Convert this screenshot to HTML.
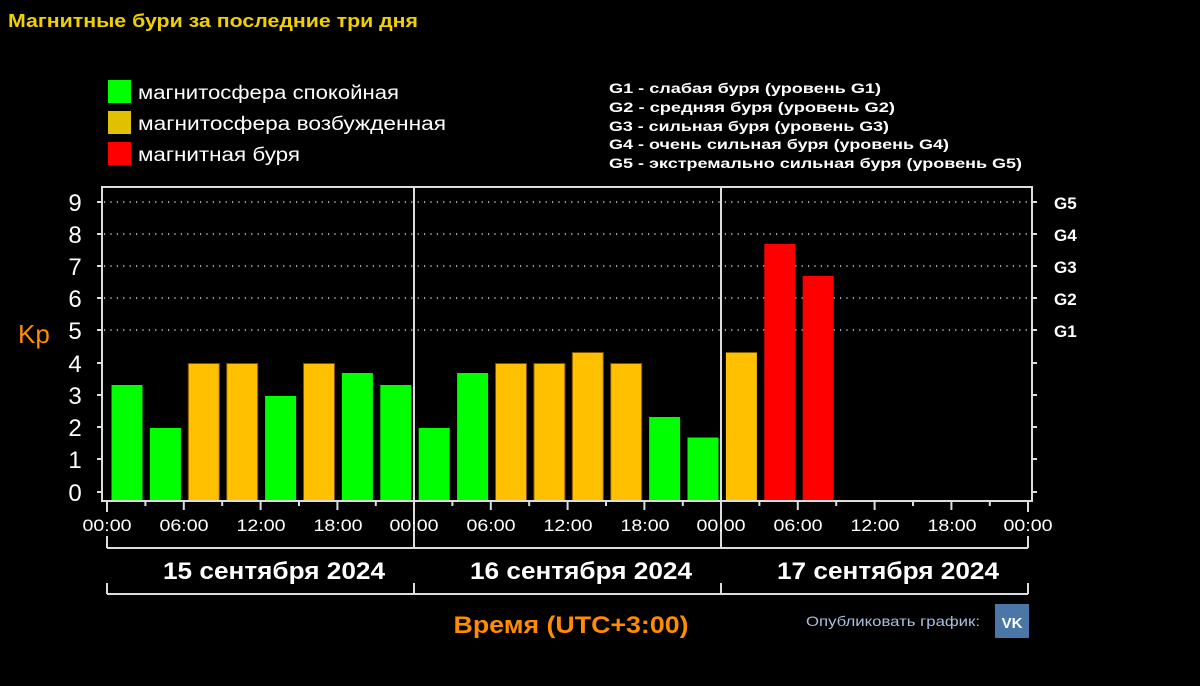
<!DOCTYPE html>
<html><head><meta charset="utf-8"><style>
html,body{margin:0;padding:0;background:#000;}
svg{display:block;}
text{font-family:"Liberation Sans","DejaVu Sans",sans-serif;}
</style></head><body>
<svg width="1200" height="686" viewBox="0 0 1200 686" xmlns="http://www.w3.org/2000/svg">
<rect width="1200" height="686" fill="#000"/>
<text x="8" y="27" font-size="18" font-weight="bold" fill="#f0d000" textLength="410" lengthAdjust="spacingAndGlyphs">Магнитные бури за последние три дня</text>

<rect x="108" y="80" width="23" height="23" fill="#00ff00"/>
<rect x="108" y="111" width="23" height="23" fill="#e0c000"/>
<rect x="108" y="142" width="23" height="23" fill="#ff0000"/>
<g fill="#fff" font-size="19">
<text x="138" y="99" textLength="261" lengthAdjust="spacingAndGlyphs">магнитосфера спокойная</text>
<text x="138" y="130" textLength="308" lengthAdjust="spacingAndGlyphs">магнитосфера возбужденная</text>
<text x="138" y="161" textLength="162" lengthAdjust="spacingAndGlyphs">магнитная буря</text>
</g>
<g fill="#fff" font-size="14" font-weight="bold">
<text x="609" y="93" textLength="272" lengthAdjust="spacingAndGlyphs">G1 - слабая буря (уровень G1)</text>
<text x="609" y="112" textLength="286" lengthAdjust="spacingAndGlyphs">G2 - средняя буря (уровень G2)</text>
<text x="609" y="131" textLength="280" lengthAdjust="spacingAndGlyphs">G3 - сильная буря (уровень G3)</text>
<text x="609" y="149" textLength="340" lengthAdjust="spacingAndGlyphs">G4 - очень сильная буря (уровень G4)</text>
<text x="609" y="168" textLength="413" lengthAdjust="spacingAndGlyphs">G5 - экстремально сильная буря (уровень G5)</text>
</g>

<g stroke="#fff" stroke-width="1.2" stroke-dasharray="1.2 5.2">
<line x1="104" y1="202" x2="1030" y2="202"/>
<line x1="104" y1="234" x2="1030" y2="234"/>
<line x1="104" y1="266" x2="1030" y2="266"/>
<line x1="104" y1="298" x2="1030" y2="298"/>
<line x1="104" y1="330" x2="1030" y2="330"/>
</g>

<g>
<rect x="111.5" y="385" width="31" height="116" fill="#00ff00"/>
<rect x="149.9" y="428" width="31" height="73" fill="#00ff00"/>
<rect x="188.3" y="363.5" width="31" height="137.5" fill="#ffc000" stroke="#805000" stroke-width="1"/>
<rect x="226.7" y="363.5" width="31" height="137.5" fill="#ffc000" stroke="#805000" stroke-width="1"/>
<rect x="265.1" y="396" width="31" height="105" fill="#00ff00"/>
<rect x="303.5" y="363.5" width="31" height="137.5" fill="#ffc000" stroke="#805000" stroke-width="1"/>
<rect x="341.9" y="373" width="31" height="128" fill="#00ff00"/>
<rect x="380.3" y="385" width="31" height="116" fill="#00ff00"/>
<rect x="418.7" y="428" width="31" height="73" fill="#00ff00"/>
<rect x="457.1" y="373" width="31" height="128" fill="#00ff00"/>
<rect x="495.5" y="363.5" width="31" height="137.5" fill="#ffc000" stroke="#805000" stroke-width="1"/>
<rect x="533.9" y="363.5" width="31" height="137.5" fill="#ffc000" stroke="#805000" stroke-width="1"/>
<rect x="572.3" y="352.5" width="31" height="148.5" fill="#ffc000" stroke="#805000" stroke-width="1"/>
<rect x="610.7" y="363.5" width="31" height="137.5" fill="#ffc000" stroke="#805000" stroke-width="1"/>
<rect x="649.1" y="417" width="31" height="84" fill="#00ff00"/>
<rect x="687.5" y="437.5" width="31" height="63.5" fill="#00ff00"/>
<rect x="725.9" y="352.5" width="31" height="148.5" fill="#ffc000"/>
<rect x="764.3" y="244" width="31" height="257" fill="#ff0000"/>
<rect x="802.7" y="276" width="31" height="225" fill="#ff0000"/>
</g>

<g stroke="#ddd" stroke-width="2" fill="none">
<rect x="102" y="187" width="930" height="314"/>
<line x1="414" y1="187" x2="414" y2="548"/>
<line x1="721" y1="187" x2="721" y2="548"/>
<line x1="414" y1="583" x2="414" y2="594"/>
<line x1="721" y1="583" x2="721" y2="594"/>
</g>
<g stroke="#ddd" stroke-width="2">
<line x1="97" y1="202" x2="102" y2="202"/><line x1="97" y1="234" x2="102" y2="234"/><line x1="97" y1="266" x2="102" y2="266"/><line x1="97" y1="298" x2="102" y2="298"/><line x1="97" y1="330" x2="102" y2="330"/><line x1="97" y1="363" x2="102" y2="363"/><line x1="97" y1="395" x2="102" y2="395"/><line x1="97" y1="427" x2="102" y2="427"/><line x1="97" y1="459" x2="102" y2="459"/><line x1="97" y1="492" x2="102" y2="492"/>
<line x1="1032" y1="202" x2="1037" y2="202"/><line x1="1032" y1="234" x2="1037" y2="234"/><line x1="1032" y1="266" x2="1037" y2="266"/><line x1="1032" y1="298" x2="1037" y2="298"/><line x1="1032" y1="330" x2="1037" y2="330"/><line x1="1032" y1="363" x2="1037" y2="363"/><line x1="1032" y1="395" x2="1037" y2="395"/><line x1="1032" y1="427" x2="1037" y2="427"/><line x1="1032" y1="459" x2="1037" y2="459"/><line x1="1032" y1="492" x2="1037" y2="492"/>
</g>
<g stroke="#ddd" stroke-width="2">
<line x1="107" y1="501" x2="107" y2="512"/><line x1="145.4" y1="501" x2="145.4" y2="506"/><line x1="183.8" y1="501" x2="183.8" y2="510"/><line x1="222.2" y1="501" x2="222.2" y2="506"/><line x1="260.6" y1="501" x2="260.6" y2="510"/><line x1="299" y1="501" x2="299" y2="506"/><line x1="337.4" y1="501" x2="337.4" y2="510"/><line x1="375.8" y1="501" x2="375.8" y2="506"/>
<line x1="452.4" y1="501" x2="452.4" y2="506"/><line x1="490.8" y1="501" x2="490.8" y2="510"/><line x1="529.2" y1="501" x2="529.2" y2="506"/><line x1="567.6" y1="501" x2="567.6" y2="510"/><line x1="606" y1="501" x2="606" y2="506"/><line x1="644.4" y1="501" x2="644.4" y2="510"/><line x1="682.8" y1="501" x2="682.8" y2="506"/>
<line x1="759.4" y1="501" x2="759.4" y2="506"/><line x1="797.8" y1="501" x2="797.8" y2="510"/><line x1="836.2" y1="501" x2="836.2" y2="506"/><line x1="874.6" y1="501" x2="874.6" y2="510"/><line x1="913" y1="501" x2="913" y2="506"/><line x1="951.4" y1="501" x2="951.4" y2="510"/><line x1="989.8" y1="501" x2="989.8" y2="506"/><line x1="1028" y1="501" x2="1028" y2="512"/>
<line x1="107" y1="536" x2="107" y2="548"/><line x1="1028" y1="536" x2="1028" y2="548"/>
<line x1="107" y1="548" x2="1028" y2="548"/>
<line x1="107" y1="583" x2="107" y2="594"/><line x1="1028" y1="583" x2="1028" y2="594"/>
<line x1="107" y1="594" x2="1028" y2="594"/>
</g>

<g fill="#fff" font-size="24" text-anchor="middle">
<text x="75" y="211">9</text><text x="75" y="243">8</text><text x="75" y="275">7</text><text x="75" y="307">6</text><text x="75" y="339">5</text><text x="75" y="372">4</text><text x="75" y="404">3</text><text x="75" y="436">2</text><text x="75" y="468">1</text><text x="75" y="501">0</text>
</g>
<text x="18" y="343" font-size="26" fill="#ff8c00">Kp</text>
<g fill="#fff" font-size="17" font-weight="bold">
<text x="1054" y="209">G5</text><text x="1054" y="241">G4</text><text x="1054" y="273">G3</text><text x="1054" y="305">G2</text><text x="1054" y="337">G1</text>
</g>

<g fill="#fff" font-size="17" text-anchor="middle">
<text x="107" y="531" textLength="49" lengthAdjust="spacingAndGlyphs">00:00</text><text x="184" y="531" textLength="49" lengthAdjust="spacingAndGlyphs">06:00</text><text x="261" y="531" textLength="49" lengthAdjust="spacingAndGlyphs">12:00</text><text x="338" y="531" textLength="49" lengthAdjust="spacingAndGlyphs">18:00</text><text x="414" y="531" textLength="49" lengthAdjust="spacingAndGlyphs">00:00</text>
<text x="491" y="531" textLength="49" lengthAdjust="spacingAndGlyphs">06:00</text><text x="568" y="531" textLength="49" lengthAdjust="spacingAndGlyphs">12:00</text><text x="645" y="531" textLength="49" lengthAdjust="spacingAndGlyphs">18:00</text><text x="721" y="531" textLength="49" lengthAdjust="spacingAndGlyphs">00:00</text>
<text x="798" y="531" textLength="49" lengthAdjust="spacingAndGlyphs">06:00</text><text x="875" y="531" textLength="49" lengthAdjust="spacingAndGlyphs">12:00</text><text x="952" y="531" textLength="49" lengthAdjust="spacingAndGlyphs">18:00</text><text x="1028" y="531" textLength="49" lengthAdjust="spacingAndGlyphs">00:00</text>
</g>
<g fill="#fff" font-size="24" font-weight="bold" text-anchor="middle">
<text x="274" y="579" textLength="222" lengthAdjust="spacingAndGlyphs">15 сентября 2024</text>
<text x="581" y="579" textLength="222" lengthAdjust="spacingAndGlyphs">16 сентября 2024</text>
<text x="888" y="579" textLength="222" lengthAdjust="spacingAndGlyphs">17 сентября 2024</text>
</g>
<text x="571" y="633" font-size="24" font-weight="bold" fill="#ff8c00" text-anchor="middle" textLength="235" lengthAdjust="spacingAndGlyphs">Время (UTC+3:00)</text>
<text x="806" y="626" font-size="14" fill="#a8c0dc" textLength="174" lengthAdjust="spacingAndGlyphs">Опубликовать график:</text>
<rect x="995" y="604" width="34" height="34" fill="#4a76a8"/>
<text x="1012" y="628" font-size="15" font-weight="bold" fill="#fff" text-anchor="middle">VK</text>
</svg>
</body></html>
